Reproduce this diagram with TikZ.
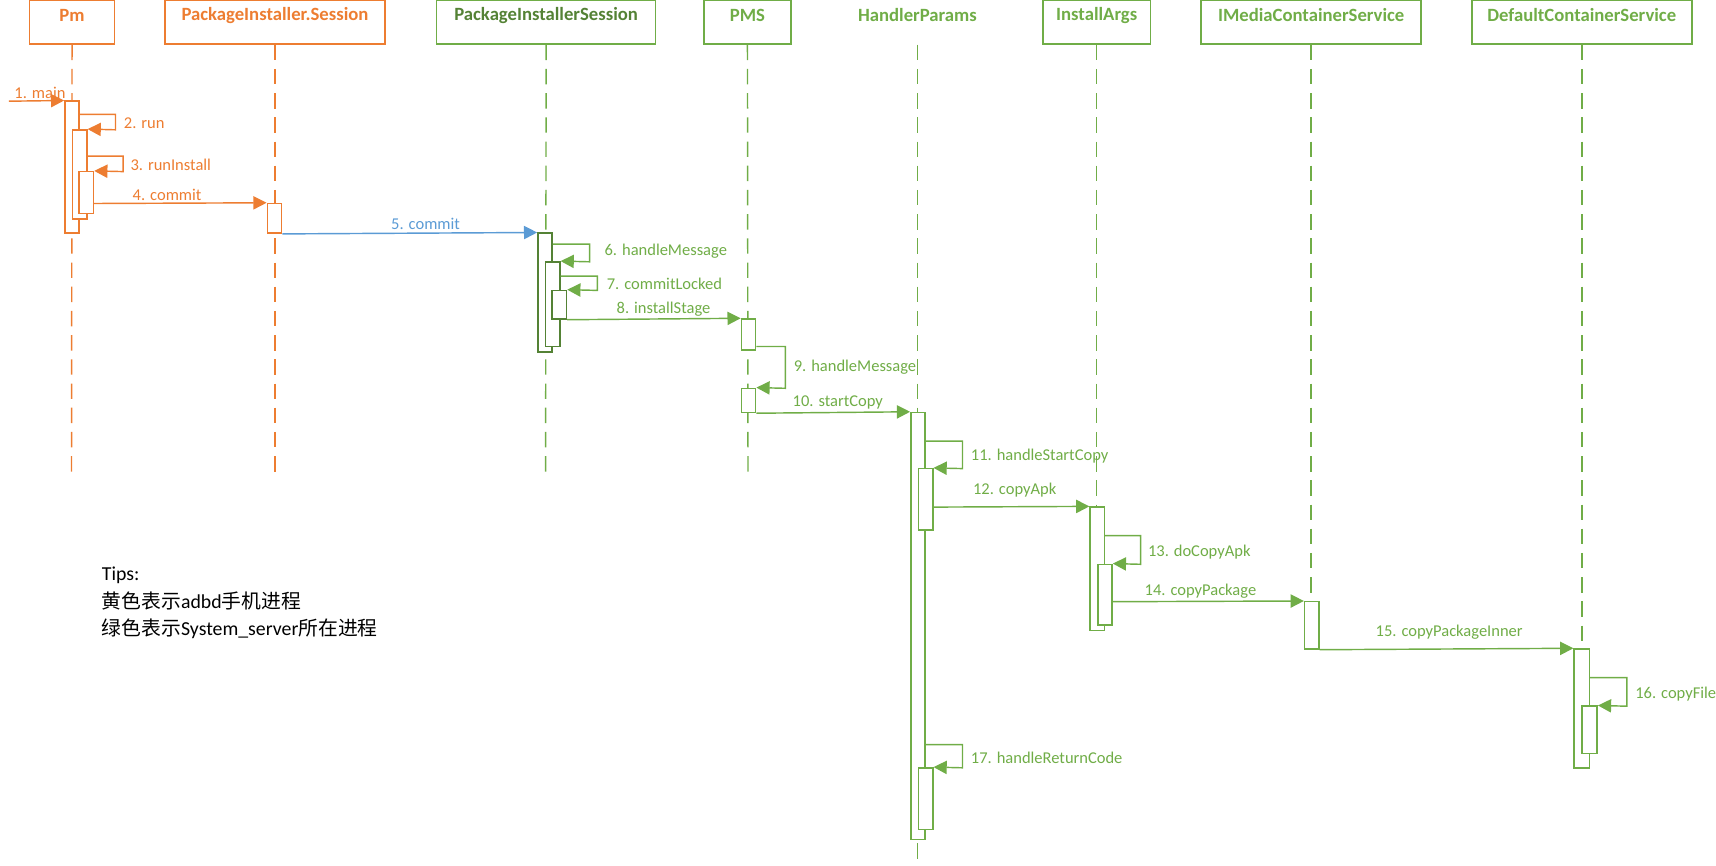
\documentclass[tikz,border=0pt]{standalone}
\usepackage{fontspec}
\setmainfont{Carlito}
\newfontfamily\cjk{Noto Sans CJK SC}
\usetikzlibrary{arrows.meta,fit}
\definecolor{og}{HTML}{ED7D31}
\definecolor{gr}{HTML}{70AD47}
\definecolor{dg}{HTML}{548235}
\definecolor{bl}{HTML}{5B9BD5}
\begin{document}
\begin{tikzpicture}[x=0.5pt,y=-0.5pt,line width=0.65pt,
  hdr/.style={draw,inner sep=0pt,font=\fontsize{8.5}{10}\selectfont\bfseries},
  life/.style={dash pattern=on 7pt off 4pt},
  act/.style={draw,fill=white,inner sep=0pt},
  msg/.style={-{Triangle[length=6pt,width=6pt]}},
  lbl/.style={font=\fontsize{7.5}{9}\selectfont,inner sep=1pt},
  ab/.style={lbl,anchor=south west},
  aw/.style={lbl,anchor=west}]
\useasboundingbox (0,0) rectangle (1560,786.4);
% headers
\begin{scope}[og]
\node[hdr,fit={(27,0)(104,40)}] (hPm) {Pm};
\node[hdr,fit={(150,0)(350,40)}] (hPIS) {PackageInstaller.Session};
\end{scope}
\node[hdr,draw=gr,text=dg,fit={(397,0)(596,40)}] (hPS) {PackageInstallerSession};
\begin{scope}[gr]
\node[hdr,fit={(640,0)(719,40)}] (hPMS) {PMS};
\node[hdr,draw=none,fit={(760,0)(908,40)}] (hHP) {HandlerParams};
\node[hdr,fit={(948,0)(1046,40)}] (hIA) {InstallArgs};
\node[hdr,fit={(1092,0)(1292,40)}] (hIM) {IMediaContainerService};
\node[hdr,fit={(1338,0)(1538,40)}] (hDC) {DefaultContainerService};
\end{scope}
% lifelines
\coordinate (ePm) at (65,435);
\coordinate (ePIS) at (250,435);
\coordinate (ePS) at (496,435);
\coordinate (ePMS) at (680,435);
\coordinate (eHP) at (834,790);
\coordinate (eIA) at (997,560);
\coordinate (eIM) at (1192,550);
\coordinate (eDC) at (1438,592);
\draw[og,life] (hPm.south) -- (ePm);
\draw[og,life] (hPIS.south) -- (ePIS);
\draw[gr,life] (hPS.south) -- (ePS);
\draw[gr,life] (hPMS.south) -- (ePMS);
\draw[gr,life] (hHP.south) -- (eHP);
\draw[gr,life] (hIA.south) -- (eIA);
\draw[gr,life] (hIM.south) -- (eIM);
\draw[gr,life] (hDC.south) -- (eDC);
% activations
\begin{scope}[og]
\node[act,fit={(59,92)(72,212)}] (p1) {};
\node[act,fit={(66,118)(79,199)}] (p2) {};
\node[act,fit={(72,156)(85,194)}] (p3) {};
\node[act,fit={(243,185)(256,212)}] (s1) {};
\end{scope}
\begin{scope}[dg]
\node[act,fit={(489,212)(502,320)}] (k1) {};
\node[act,fit={(496,238)(509,315)}] (k2) {};
\node[act,fit={(502,264)(515,290)}] (k3) {};
\end{scope}
\begin{scope}[gr]
\node[act,fit={(674,290)(687,318)}] (m1) {};
\node[act,fit={(674,353)(687,375)}] (m2) {};
\node[act,fit={(828,375)(841,763)}] (h1) {};
\node[act,fit={(835,426)(848,482)}] (h2) {};
\node[act,fit={(835,698)(848,754)}] (h3) {};
\node[act,fit={(991,461)(1004,573)}] (i1) {};
\node[act,fit={(998,513)(1011,568)}] (i2) {};
\node[act,fit={(1186,547)(1199,590)}] (c1) {};
\node[act,fit={(1431,590)(1445,698)}] (d1) {};
\node[act,fit={(1438,642)(1452,685)}] (d2) {};
\end{scope}
% messages
\begin{scope}[og]
\coordinate (start) at (8,92);
\draw[msg] (start) -- (p1.north west) node[ab,pos=0.05] {1. main};
\draw[msg] (p1.east |- 0,104) -- (105,104) -- (105,118) -- (p2.north east);
\node[aw] at (110,112) {2. run};
\draw[msg] (p2.east |- 0,142) -- (112,142) -- (112,156) -- (p3.north east);
\node[aw] at (116,150) {3. runInstall};
\draw[msg] (p3.east |- 0,185) -- (s1.north west);
\node[ab] at (118,185) {4. commit};
\end{scope}
\draw[bl,msg] (s1.south east) -- (k1.north west);
\node[ab,bl] at (353,211) {5. commit};
\begin{scope}[gr]
\draw[msg] (k1.east |- 0,222) -- (536,222) -- (536,238) -- (k2.north east);
\node[aw] at (547,228) {6. handleMessage};
\draw[msg] (k2.east |- 0,251) -- (543,251) -- (543,264) -- (k3.north east);
\node[aw] at (549,258) {7. commitLocked};
\draw[msg] (k3.south east) -- (m1.north west);
\node[ab] at (558,290) {8. installStage};
\draw[msg] (m1.east |- 0,315) -- (714,315) -- (714,353) -- (m2.north east);
\node[aw] at (719,334) {9. handleMessage};
\draw[msg] (m2.south east) -- (h1.north west);
\node[ab] at (718,375) {10. startCopy};
\draw[msg] (h1.east |- 0,401) -- (875,401) -- (875,426) -- (h2.north east);
\node[aw] at (880,415) {11. handleStartCopy};
\draw[msg] (h2.east |- 0,461) -- (i1.north west);
\node[ab] at (882,455) {12. copyApk};
\draw[msg] (i1.east |- 0,487) -- (1037,487) -- (1037,513) -- (i2.north east);
\node[aw] at (1041,502) {13. doCopyApk};
\draw[msg] (i2.east |- 0,547) -- (c1.north west);
\node[ab] at (1038,547) {14. copyPackage};
\draw[msg] (c1.south east) -- (d1.north west);
\node[ab] at (1248,584) {15. copyPackageInner};
\draw[msg] (d1.east |- 0,616) -- (1479,616) -- (1479,642) -- (d2.north east);
\node[aw] at (1484,631) {16. copyFile};
\draw[msg] (h1.east |- 0,677) -- (875,677) -- (875,698) -- (h3.north east);
\node[aw] at (880,689) {17. handleReturnCode};
\end{scope}
% tips
\node[anchor=north west,align=left,inner sep=0pt,font=\fontsize{9}{12.5}\selectfont] (tips) at (92,515)
  {Tips:\\{\cjk 黄色表示}adbd{\cjk 手机进程}\\{\cjk 绿色表示}System\_server{\cjk 所在进程}};
\end{tikzpicture}
\end{document}
